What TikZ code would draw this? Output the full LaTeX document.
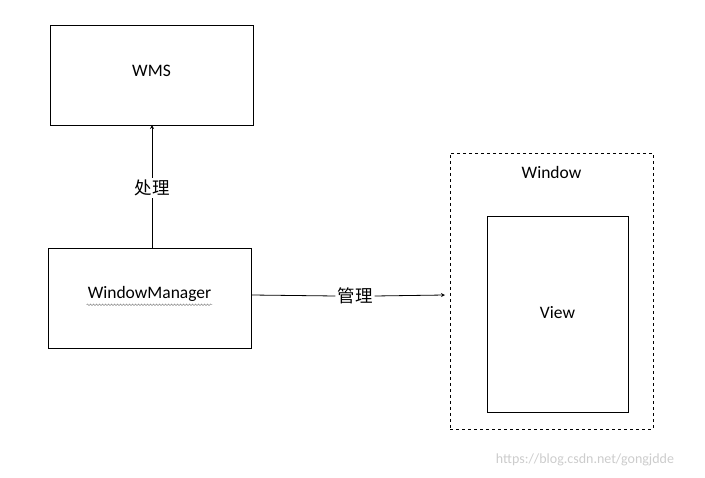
\documentclass[tikz,border=0pt]{standalone}
\usepackage{fontspec}
\setmainfont{Carlito}
\newfontfamily\cjk{Noto Sans CJK SC}
\usetikzlibrary{decorations.pathmorphing}
\begin{document}
\begin{tikzpicture}[x=1pt,y=-1pt,
  box/.style={draw,line width=0.8pt,inner sep=0pt},
  lbl/.style={font=\fontsize{17.5}{20}\selectfont},
  arr/.style={-stealth,line width=0.8pt}]
\useasboundingbox (0,0) rectangle (705,478);
\node[box,minimum width=203pt,minimum height=100pt] (wms) at (151.5,75) {};
\node[lbl] at (151.5,71) {WMS};
\node[box,minimum width=203pt,minimum height=100pt] (wm) at (149.5,298) {};
\node[lbl,inner sep=1pt] (wmt) at (149.5,294) {WindowManager};
\draw[gray,line width=0.4pt,decorate,decoration={snake,amplitude=0.8pt,segment length=3pt}] ([yshift=-2pt]wmt.south west) -- ([yshift=-2pt]wmt.south east);
\node[box,dashed,minimum width=203pt,minimum height=276pt] (win) at (551.5,291) {};
\node[lbl] at (551.5,172) {Window};
\node[box,minimum width=141pt,minimum height=196pt] (view) at (557.5,314) {};
\node[lbl] at (557.5,313) {View};
\node[lbl,fill=white,inner sep=2pt] (p1) at (152,188) {\cjk 处理};
\draw[line width=0.8pt] (wm.north -| 152,0) -- (p1.south);
\draw[arr] (p1.north) -- (152,125);
\node[lbl,fill=white,inner sep=2pt] (p2) at (355,296) {\cjk 管理};
\draw[line width=0.8pt] (wm.east |- 0,295) -- (p2.west);
\coordinate (e) at (445,295);
\draw[arr] (p2.east) -- (e);
\node[font=\fontsize{14}{16}\selectfont,text=gray!40] at (585,460) {https://blog.csdn.net/gongjdde};
\end{tikzpicture}
\end{document}
